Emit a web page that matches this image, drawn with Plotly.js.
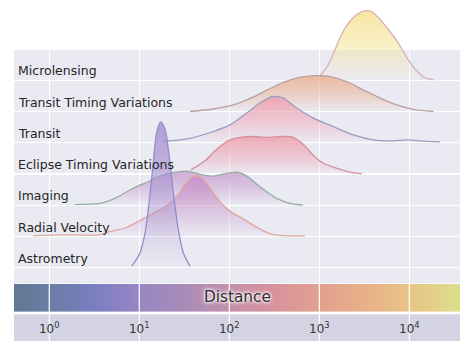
<!DOCTYPE html>
<html><head><meta charset="utf-8">
<script src="https://cdn.plot.ly/plotly-3.0.1.min.js"></script>
<style>html,body{margin:0;padding:0;background:#fff;}</style>
</head><body><div id="chart" style="width:474px;height:355px;"></div>
<script>
// Ridge categories (bottom to top row)
const methods = ["Astrometry","Radial Velocity","Imaging","Eclipse Timing Variations","Transit","Transit Timing Variations","Microlensing"];

// Distance (pc) sample positions and ridge heights (density, in row units)
const astrometryDist = [8.24,10.2,11.6,13.2,14.3,15.6,17.3,19.3,21.9,23.9,27.1,30.8,36.6];
const astrometryDens = [0.05,0.48,1.12,2.40,3.37,4.33,4.67,4.43,3.37,2.40,1.23,0.48,0.05];

const rvDist = [0.659,1.315,3.66,4.72,6.93,11.0,16.1,20.8,26.9,33.9,41.6,49.8,64.3,83.0,107,149,208,306,693];
const rvDens = [0.02,0.05,0.06,0.16,0.27,0.56,0.82,1.01,1.33,1.75,1.94,1.88,1.46,1.04,0.77,0.53,0.27,0.06,0.02];

const imagingDist = [1.93,3.66,5.37,8.51,12.5,17.0,23.7,33.9,47.2,65.9,93.3,122,157,219,339,472,659];
const imagingDens = [0.02,0.06,0.22,0.54,0.75,0.93,1.04,1.09,0.99,0.93,1.02,1.06,0.93,0.59,0.21,0.06,0];

const etvDist = [37.5,53.7,69.3,96.8,131.5,183,256,366,498,659,851,1099,1574,2193,2979];
const etvDens = [0.13,0.42,0.74,1.06,1.17,1.20,1.17,1.20,1.19,0.96,0.61,0.35,0.18,0.06,0];

const transitDist = [18.5,36.6,66.4,102,156,219,308,398,561,857,1430,2390,3980,6640,9350,13150,21900];
const transitDens = [0.04,0.14,0.36,0.57,0.95,1.27,1.48,1.43,1.11,0.79,0.52,0.25,0.09,0.06,0.09,0.06,0.03];

const ttvDist = [36.6,66.4,111,173,264,405,619,935,1315,2010,3080,4720,7230,11070,18500];
const ttvDens = [0,0.08,0.21,0.43,0.69,0.94,1.10,1.15,1.12,0.96,0.69,0.43,0.21,0.07,0];

const microDist = [1020,1210,1430,1700,2010,2390,2830,3370,3820,4530,5610,7240,9350,11600,14300,18500];
const microDens = [0.14,0.41,0.84,1.37,1.75,2.01,2.17,2.23,2.20,2.01,1.69,1.27,0.73,0.36,0.11,0.01];

// Styles per ridge
const lineColors = ["#8c90c8","#e0a8a0","#94aca4","#d4909c","#9a9cc4","#b8a0a0","#d8aebb"];
const fillRGB = ["168,144,208","200,144,200","200,160,208","236,160,174","240,160,176","236,176,146","245,226,144"];

// Colour strip (distance positions and colours)
const cbarDist = [0.3,1,3.16,10,31.6,100,316,1000,3160,10000,40000];
const cbarColors = ["#5f7590","#6a7ea4","#7a7ec0","#9886c4","#a88cb8","#c490ac","#d8929c","#e2a090","#e8b088","#e8c488","#dce08c"];

const tickVals = [1,10,100,1000,10000];
const tickText = ["10<sup>0</sup>","10<sup>1</sup>","10<sup>2</sup>","10<sup>3</sup>","10<sup>4</sup>"];

const series = [
  [astrometryDist, astrometryDens],
  [rvDist, rvDens],
  [imagingDist, imagingDens],
  [etvDist, etvDens],
  [transitDist, transitDens],
  [ttvDist, ttvDens],
  [microDist, microDens]
];

const traces = [];
// draw top row first so lower rows overlay
for (let i = methods.length - 1; i >= 0; i--) {
  const xs = series[i][0], ds = series[i][1];
  const ys = ds.map(d => i + d);
  const peak = Math.max(...ds);
  traces.push({
    x: [xs[0], xs[xs.length-1]], y: [i, i], mode: 'lines',
    line: {width: 0, color: 'rgba(0,0,0,0)'}, hoverinfo: 'skip', showlegend: false
  });
  traces.push({
    x: xs, y: ys, mode: 'lines', name: methods[i],
    line: {color: lineColors[i], width: 1.3, shape: 'spline', smoothing: 0.8},
    fill: 'tonexty',
    fillgradient: {type: 'vertical', start: i, stop: i + peak,
      colorscale: [[0, 'rgba(' + fillRGB[i] + ',0)'], [0.5, 'rgba(' + fillRGB[i] + ',0.5)'], [1, 'rgba(' + fillRGB[i] + ',0.85)']]},
    showlegend: false
  });
}

// colour strip heatmap
const idx = cbarDist.map((_, k) => k);
traces.push({
  type: 'heatmap', x: cbarDist, y: [0, 1], z: [idx, idx], xaxis: 'x', yaxis: 'y2',
  zsmooth: 'best', showscale: false, hoverinfo: 'skip',
  colorscale: cbarColors.map((c, k) => [k / (cbarColors.length - 1), c]),
  zmin: 0, zmax: cbarColors.length - 1
});

const annotations = methods.map((m, i) => ({
  text: m, xref: 'paper', x: 0.005, xanchor: 'left', yref: 'y', y: i + 0.3, yanchor: 'middle',
  showarrow: false, font: {family: 'DejaVu Sans', size: 12.5, color: '#262626'}
}));
annotations.push({
  text: 'Distance', xref: 'paper', x: 0.5, xanchor: 'center', yref: 'paper', y: 0.051, yanchor: 'middle',
  showarrow: false, font: {family: 'DejaVu Sans', size: 15.3, color: '#2e2e2e',
    shadow: '0 0 3px #fff, 0 0 3px #fff, 0 0 5px #fff'}
});

const shapes = [
  {type: 'rect', layer: 'below', xref: 'paper', x0: 0, x1: 1, yref: 'y', y0: -0.5, y1: 7,
   fillcolor: '#eaeaf2', line: {width: 0}},
  {type: 'rect', layer: 'below', xref: 'paper', x0: 0, x1: 1, yref: 'paper', y0: -0.0895, y1: -0.004,
   fillcolor: '#d3d3e3', line: {width: 0}}
];
tickVals.forEach(v => {
  shapes.push({
    type: 'line', layer: 'below', xref: 'x', x0: v, x1: v, yref: 'paper', y0: -0.0895, y1: 0,
    line: {color: '#ffffff', width: 1.2}
  });
  shapes.push({
    type: 'line', layer: 'above', xref: 'x', x0: v, x1: v, yref: 'paper', y0: 0.004, y1: 0.095,
    line: {color: '#ffffff', width: 1.2}
  });
});

const layout = {
  width: 474, height: 355,
  margin: {l: 14, r: 14, t: 0, b: 42},
  paper_bgcolor: '#ffffff', plot_bgcolor: 'rgba(0,0,0,0)',
  showlegend: false,
  xaxis: {type: 'log', range: [-0.392, 4.563], tickvals: tickVals, ticktext: tickText, anchor: 'y2',
    showgrid: true, gridcolor: '#ffffff', gridwidth: 1.2, zeroline: false, showline: false, ticks: '',
    ticklabelstandoff: 8,
    tickfont: {family: 'DejaVu Sans', size: 12, color: '#333333'}, fixedrange: true},
  yaxis: {domain: [0.0949, 1], range: [-0.5, 8.57], tickvals: [-0.5,0,1,2,3,4,5,6,7],
    showticklabels: false, showgrid: true, gridcolor: '#ffffff', gridwidth: 1.2, zeroline: false, ticks: ''},
  yaxis2: {domain: [0.004, 0.0933], range: [-0.5, 1.5], visible: false},
  annotations: annotations,
  shapes: shapes
};

Plotly.newPlot('chart', traces, layout, {displayModeBar: false, staticPlot: true});
</script>
</body></html>
